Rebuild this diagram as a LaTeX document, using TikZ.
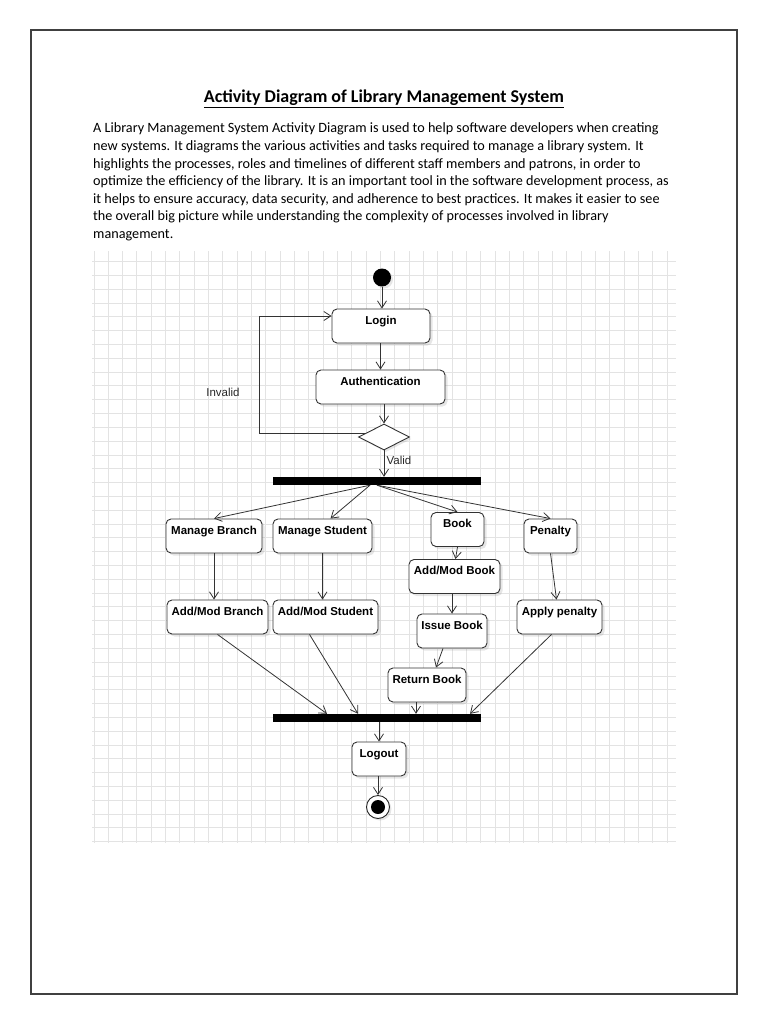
\documentclass[tikz,border=0pt]{standalone}
\usepackage{fontspec}
\setmainfont{Carlito}
\newfontfamily\umlfont{Liberation Sans}
\usetikzlibrary{arrows.meta, shapes.geometric, shadows}

\tikzset{
  act/.style={draw=black!80, fill=white, rounded corners=5pt, line width=0.9pt,
    font=\umlfont\bfseries\fontsize{11.5}{13}\selectfont,
    text height=11pt, text depth=15pt, inner ysep=4pt, inner xsep=3pt,
    drop shadow={opacity=0.2, shadow xshift=2.5pt, shadow yshift=-2.5pt}},
  bar/.style={fill=black, minimum width=208pt, minimum height=8pt, inner sep=0pt},
  flow/.style={draw=black!80, line width=0.8pt, -{Straight Barb[length=7pt,width=9pt]}},
  lbl/.style={font=\umlfont\fontsize{11.5}{13}\selectfont, text=black!85},
}

\begin{document}
\begin{tikzpicture}[x=1pt, y=-1pt]
      \useasboundingbox (0,0) rectangle (768,1024);
      \draw[black!75, line width=1.3pt] (31,30) rectangle (737,994);

      % title and text
      \node[font=\bfseries\fontsize{18}{21}\selectfont] (title) at (384,99)
        {\underline{Activity Diagram of Library Management System}};
      \node[anchor=base west, align=left, inner sep=0pt, font=\fontsize{14.2}{17.5}\selectfont] (intro) at (93,238)
        {A Library Management System Activity Diagram is used to help software developers when creating\\
         new systems. It diagrams the various activities and tasks required to manage a library system. It\\
         highlights the processes, roles and timelines of different staff members and patrons, in order to\\
         optimize the efficiency of the library. It is an important tool in the software development process, as\\
         it helps to ensure accuracy, data security, and adherence to best practices. It makes it easier to see\\
         the overall big picture while understanding the complexity of processes involved in library\\
         management.};

      % grid
      \foreach \i in {0,...,40}
        \draw[black!11, line width=1pt] ({94+14.33*\i}, 251) -- ({94+14.33*\i}, 843);
      \foreach \j in {0,...,42}
        \draw[black!11, line width=1pt] (92, {261.7+13.81*\j}) -- (676, {261.7+13.81*\j});

      % activities
      \node[circle, fill=black, minimum size=18pt, inner sep=0pt,
        drop shadow={opacity=0.2, shadow xshift=2pt, shadow yshift=-2pt}] (start) at (382,277.5) {};
      \node[act, minimum width=98pt] (login) at (381,326) {Login};
      \node[act, minimum width=129pt] (auth) at (380.5,387) {Authentication};
      \node[diamond, draw=black!80, fill=white, line width=0.9pt, minimum width=51pt, minimum height=26pt,
        inner sep=0pt, drop shadow={opacity=0.2, shadow xshift=2pt, shadow yshift=-2pt}] (dec) at (384,437) {};
      \node[bar] (fork) at (377,481) {};
      \node[act, minimum width=96pt] (branch) at (214,536) {Manage Branch};
      \node[act, minimum width=99pt] (student) at (322.5,536) {Manage Student};
      \node[act, minimum width=53pt] (book) at (457.5,529.5) {Book};
      \node[act, minimum width=53pt] (penalty) at (550.5,536) {Penalty};
      \node[act, minimum width=91pt] (addbook) at (454.5,576.5) {Add/Mod Book};
      \node[act, minimum width=101pt] (addbranch) at (217.5,617) {Add/Mod Branch};
      \node[act, minimum width=105pt] (addstudent) at (325.5,617) {Add/Mod Student};
      \node[act, minimum width=70pt] (issue) at (452,631) {Issue Book};
      \node[act, minimum width=85pt] (apply) at (559.5,617) {Apply penalty};
      \node[act, minimum width=78pt] (return) at (427,685) {Return Book};
      \node[bar] (join) at (377,718) {};
      \node[act, minimum width=54pt] (logout) at (379,759) {Logout};
      \node[circle, draw=black!85, fill=white, line width=0.9pt, minimum size=23pt, inner sep=0pt,
        drop shadow={opacity=0.2, shadow xshift=2pt, shadow yshift=-2pt}] (stop) at (378,807) {};
      \node[circle, fill=black, minimum size=14pt, inner sep=0pt] (stopdot) at (stop) {};

      % flows
      \coordinate (inv) at (259,431);
      \draw[flow] (start) -- (start |- login.north);
      \draw[flow] (login.south -| auth) -- (auth);
      \draw[flow] (auth.south -| dec) -- (dec.north);
      \draw[flow] (dec.170) -- (dec.170 -| inv) |- ([yshift=10pt]login.west);
      \node[lbl] at (223,392) {Invalid};
      \draw[flow] (dec.south) -- (fork.north -| dec);
      \node[lbl] at (399,460) {Valid};

      \draw[flow] ([xshift=-7pt]fork.south) -- (branch.north);
      \draw[flow] ([xshift=-7pt]fork.south) -- ([xshift=8pt]student.north);
      \draw[flow] (fork.south) -- (book.north);
      \draw[flow] (fork.south) -- (penalty.north);

      \draw[flow] (branch) -- (branch |- addbranch.north);
      \draw[flow] (student) -- (student |- addstudent.north);
      \draw[flow] (book.south) -- ([xshift=1pt]addbook.north);
      \draw[flow] (addbook.south -| issue) -- (issue.north);
      \draw[flow] ([xshift=-9pt]issue.south) -- ([xshift=9pt]return.north);
      \draw[flow] (penalty.south) -- ([xshift=-3pt]apply.north);

      \draw[flow] (addbranch.south) -- ([xshift=-50pt]join.north);
      \draw[flow] ([xshift=-16pt]addstudent.south) -- ([xshift=-19pt]join.north);
      \draw[flow] ([xshift=-11pt]return.south) -- ([xshift=39pt]join.north);
      \draw[flow] ([xshift=-8pt]apply.south) -- ([xshift=93pt]join.north);
      \draw[flow] ([xshift=2pt]join.south) -- (logout.north);
      \draw[flow] (logout.south -| stop) -- (stop.north);
    \end{tikzpicture}
\end{document}
